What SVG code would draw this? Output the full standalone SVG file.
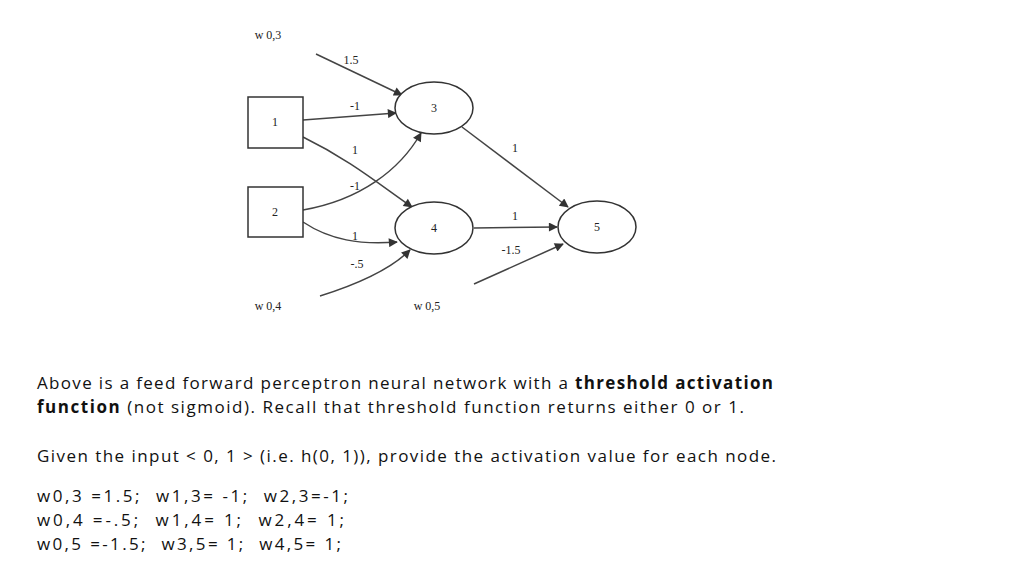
<svg xmlns="http://www.w3.org/2000/svg" width="1024" height="573" viewBox="0 0 1024 573">
<style>
.n{fill:#fff;stroke:#333;stroke-width:1.5}
.c{fill:none;stroke:#444;stroke-width:1.5;marker-end:url(#a)}
.l{font-family:"Liberation Serif",serif;font-size:12px;fill:#222;text-anchor:middle}
.t{font-family:"Open Sans","Liberation Sans",sans-serif;font-size:17px;fill:#111;white-space:pre}
</style>
<defs><marker id="a" viewBox="0 0 10 10" refX="9" refY="5" markerWidth="11" markerHeight="9" markerUnits="userSpaceOnUse" orient="auto"><path d="M0,0L10,5L0,10z" fill="#333"/></marker></defs>
<rect width="1024" height="573" fill="#fff"/>
<g id="connectors">
<path class="c" d="M316,54L402,95"/>
<path class="c" d="M303,120L396,113"/>
<path class="c" d="M303,137C350,160 380,185 412,207"/>
<path class="c" d="M303,210C360,200 400,170 421,133"/>
<path class="c" d="M303,222C330,240 360,245 397,242"/>
<path class="c" d="M320,296C355,285 390,270 410,250"/>
<path class="c" d="M462,127L568,207"/>
<path class="c" d="M474,228L557,227"/>
<path class="c" d="M474,284L563,244"/>
</g>
<g id="node1"><rect class="n" x="248" y="97" width="55" height="51"/><text class="l" x="275" y="126">1</text></g>
<g id="node2"><rect class="n" x="248" y="187" width="55" height="50"/><text class="l" x="275" y="216">2</text></g>
<g id="node3"><ellipse class="n" cx="434" cy="108" rx="39" ry="26"/><text class="l" x="434" y="112">3</text></g>
<g id="node4"><ellipse class="n" cx="434" cy="228" rx="39" ry="26"/><text class="l" x="434" y="232">4</text></g>
<g id="node5"><ellipse class="n" cx="597" cy="227" rx="39" ry="26"/><text class="l" x="597" y="231">5</text></g>
<g id="labels">
<text class="l" x="268" y="39">w 0,3</text>
<text class="l" x="351" y="64">1.5</text>
<text class="l" x="355" y="110">-1</text>
<text class="l" x="355" y="154">1</text>
<text class="l" x="355" y="190">-1</text>
<text class="l" x="355" y="240">1</text>
<text class="l" x="357" y="268">-.5</text>
<text class="l" x="268" y="310">w 0,4</text>
<text class="l" x="427" y="310">w 0,5</text>
<text class="l" x="515" y="152">1</text>
<text class="l" x="515" y="220">1</text>
<text class="l" x="511" y="254">-1.5</text>
</g>
<g id="text" xml:space="preserve">
<text class="t" x="37" y="389" textLength="736" lengthAdjust="spacing">Above is a feed forward perceptron neural network with a <tspan font-weight="bold">threshold activation</tspan></text>
<text class="t" x="37" y="413" textLength="707" lengthAdjust="spacing"><tspan font-weight="bold">function</tspan> (not sigmoid). Recall that threshold function returns either 0 or 1.</text>
<text class="t" x="37" y="462" textLength="739" lengthAdjust="spacing">Given the input &lt; 0, 1 &gt; (i.e. h(0, 1)), provide the activation value for each node.</text>
<text class="t" x="37" y="502" textLength="311" lengthAdjust="spacing">w0,3 =1.5;  w1,3= -1;  w2,3=-1;</text>
<text class="t" x="37" y="526" textLength="307" lengthAdjust="spacing">w0,4 =-.5;  w1,4= 1;  w2,4= 1;</text>
<text class="t" x="37" y="550" textLength="304" lengthAdjust="spacing">w0,5 =-1.5;  w3,5= 1;  w4,5= 1;</text>
</g>
</svg>
